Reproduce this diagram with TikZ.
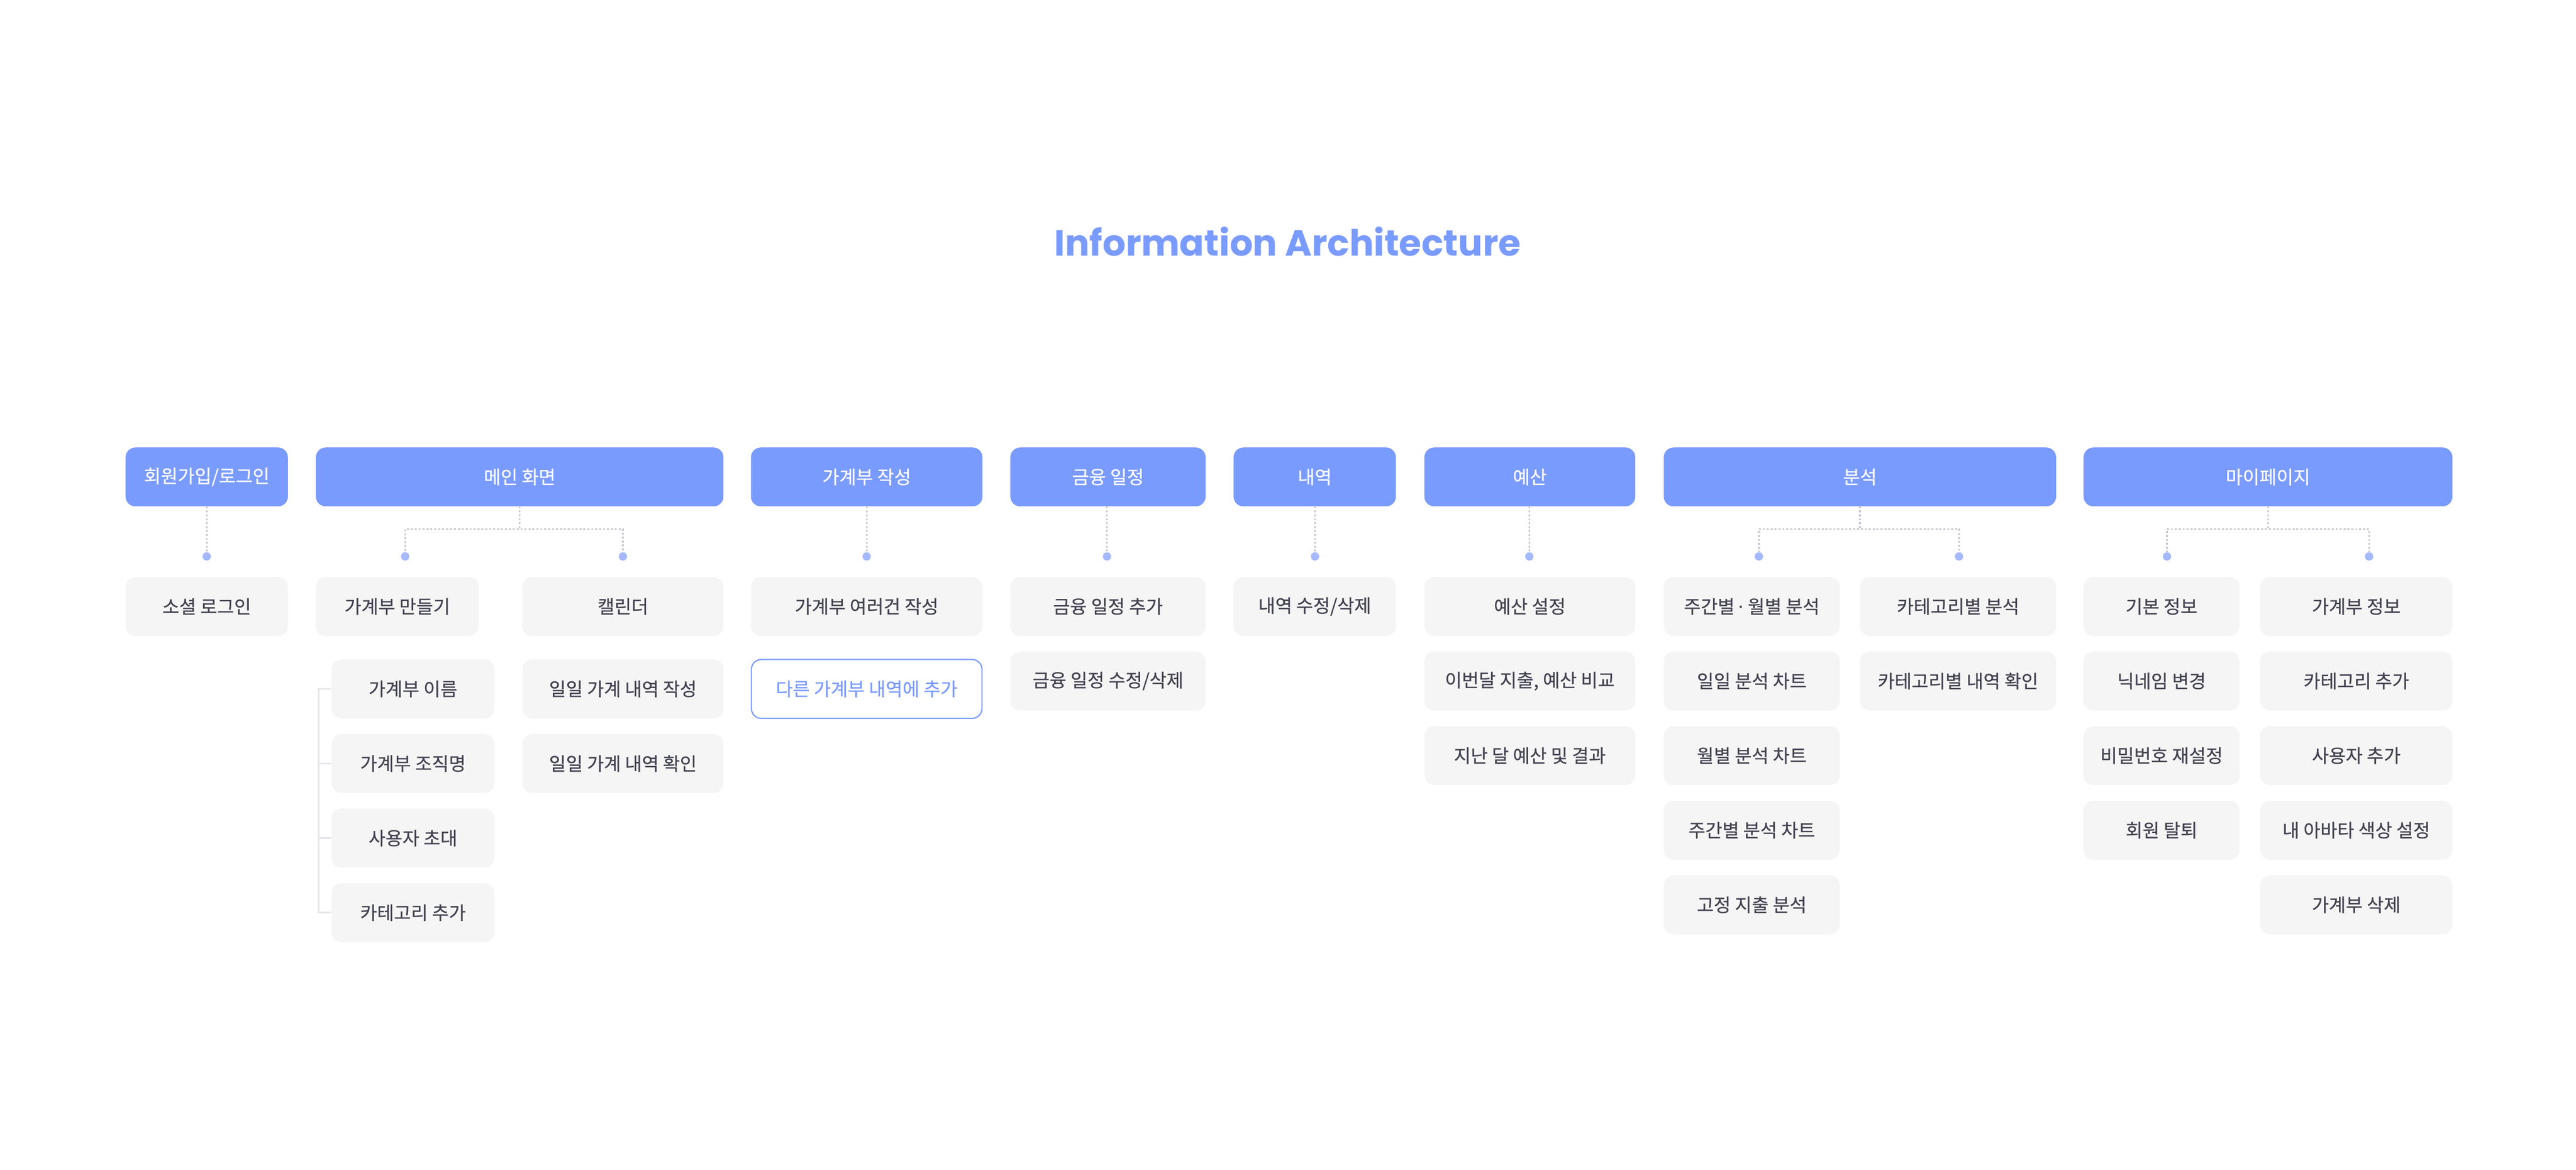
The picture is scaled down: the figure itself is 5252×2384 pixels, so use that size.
\documentclass[tikz,border=0pt]{standalone}
\usepackage{fontspec}
\newfontfamily\krfont{Noto Sans CJK KR}[FakeBold=0.5]
\newfontfamily\titlefont{Poppins}
\newfontfamily\dotfont{Noto Sans}
\usepackage{tikz}
\usetikzlibrary{backgrounds}
\definecolor{iablue}{HTML}{7A9BFE}
\definecolor{iagray}{HTML}{F5F5F6}
\definecolor{iatext}{HTML}{434352}
\definecolor{iadot}{HTML}{A5B9FF}
\definecolor{ialink}{HTML}{C8C8D2}
\definecolor{iabracket}{HTML}{E6E6EC}
\tikzset{
	topbox/.style={rectangle,rounded corners=20,fill=iablue,text=white,minimum height=120,inner sep=0pt,font=\krfont\fontsize{37.5}{44}\selectfont},
	subbox/.style={rectangle,rounded corners=20,fill=iagray,text=iatext,minimum height=120,inner sep=0pt,font=\krfont\fontsize{37.5}{44}\selectfont},
	addbox/.style={subbox,fill=white,draw=iablue,line width=2.5pt,text=iablue},
	hub/.style={circle,fill=iadot,minimum size=17,inner sep=0pt},
	link/.style={draw=ialink,line width=3.5pt,dash pattern=on 4pt off 4pt},
	bracket/.style={draw=iabracket,line width=3.5pt}
}
\begin{document}
\begin{tikzpicture}[x=1pt,y=-1pt]
	\fill[white] (0,0) rectangle (5252,2384);
	\useasboundingbox (0,0) rectangle (5252,2384);

	\node[font=\titlefont\bfseries\fontsize{74}{86}\selectfont,text=iablue,anchor=base] (title) at (2625,522) {Information Architecture};

	% top menu
	\node [topbox,minimum width=331] (signup) at (421.5,972) {회원가입/로그인};
	\node [topbox,minimum width=831] (main) at (1059.5,972) {메인 화면};
	\node [topbox,minimum width=472] (write) at (1767,972) {가계부 작성};
	\node [topbox,minimum width=398] (fin) at (2259,972) {금융 일정};
	\node [topbox,minimum width=331] (hist) at (2680.5,972) {내역};
	\node [topbox,minimum width=430] (budget) at (3119,972) {예산};
	\node [topbox,minimum width=800] (stat) at (3792,972) {분석};
	\node [topbox,minimum width=752] (mypage) at (4624,972) {마이페이지};

	% hubs
	\node [hub] (hubsignup) at (421.5,1134) {};
	\node [hub] (hubmake) at (826,1134) {};
	\node [hub] (hubcal) at (1270,1134) {};
	\node [hub] (hubwrite) at (1767,1134) {};
	\node [hub] (hubfin) at (2257,1134) {};
	\node [hub] (hubhist) at (2681,1134) {};
	\node [hub] (hubbudget) at (3118,1134) {};
	\node [hub] (hubperiod) at (3586,1134) {};
	\node [hub] (hubcat) at (3994,1134) {};
	\node [hub] (hubbasic) at (4418,1134) {};
	\node [hub] (hubbook) at (4830,1134) {};

	% second level
	\node [subbox,minimum width=331] (social) at (421.5,1236) {소셜 로그인};
	\node [subbox,minimum width=332] (make) at (810,1236) {가계부 만들기};
	\node [subbox,minimum width=410] (cal) at (1270,1236) {캘린더};
	\node [subbox,minimum width=472] (multi) at (1767,1236) {가계부 여러건 작성};
	\node [subbox,minimum width=398] (finadd) at (2259,1236) {금융 일정 추가};
	\node [subbox,minimum width=331] (histedit) at (2680.5,1236) {내역 수정/삭제};
	\node [subbox,minimum width=430] (budgetset) at (3119,1236) {예산 설정};
	\node [subbox,minimum width=359] (period) at (3571.5,1236) {주간별 {\dotfont\bfseries ·} 월별 분석};
	\node [subbox,minimum width=400] (catstat) at (3992,1236) {카테고리별 분석};
	\node [subbox,minimum width=318] (basic) at (4407,1236) {기본 정보};
	\node [subbox,minimum width=392] (bookinfo) at (4804,1236) {가계부 정보};

	% third level
	\node [subbox,minimum width=332] (bookname) at (842,1404) {가계부 이름};
	\node [subbox,minimum width=332] (bookorg) at (842,1556) {가계부 조직명};
	\node [subbox,minimum width=332] (invite) at (842,1708) {사용자 초대};
	\node [subbox,minimum width=332] (makecat) at (842,1860) {카테고리 추가};
	\node [subbox,minimum width=410] (daywrite) at (1270,1404) {일일 가계 내역 작성};
	\node [subbox,minimum width=410] (daycheck) at (1270,1556) {일일 가계 내역 확인};
	\node [addbox,minimum width=470] (otherbook) at (1767,1404) {다른 가계부 내역에 추가};
	\node [subbox,minimum width=398] (finedit) at (2259,1388) {금융 일정 수정/삭제};
	\node [subbox,minimum width=430] (compare) at (3119,1388) {이번달 지출, 예산 비교};
	\node [subbox,minimum width=430] (lastmonth) at (3119,1540) {지난 달 예산 및 결과};
	\node [subbox,minimum width=359] (daychart) at (3571.5,1388) {일일 분석 차트};
	\node [subbox,minimum width=359] (monthchart) at (3571.5,1540) {월별 분석 차트};
	\node [subbox,minimum width=359] (weekchart) at (3571.5,1692) {주간별 분석 차트};
	\node [subbox,minimum width=359] (fixed) at (3571.5,1844) {고정 지출 분석};
	\node [subbox,minimum width=400] (catlist) at (3992,1388) {카테고리별 내역 확인};
	\node [subbox,minimum width=318] (nick) at (4407,1388) {닉네임 변경};
	\node [subbox,minimum width=318] (password) at (4407,1540) {비밀번호 재설정};
	\node [subbox,minimum width=318] (leave) at (4407,1692) {회원 탈퇴};
	\node [subbox,minimum width=392] (addcat) at (4804,1388) {카테고리 추가};
	\node [subbox,minimum width=392] (adduser) at (4804,1540) {사용자 추가};
	\node [subbox,minimum width=392] (avatar) at (4804,1692) {내 아바타 색상 설정};
	\node [subbox,minimum width=392] (bookdel) at (4804,1844) {가계부 삭제};

	% dotted links
	\draw [link] (signup) -- (hubsignup);
	\draw [link] (main.south) -- ++(0,46) -| (hubmake);
	\draw [link] (main.south) -- ++(0,46) -| (hubcal);
	\draw [link] (write) -- (hubwrite);
	\draw [link] (fin.south -| hubfin) -- (hubfin);
	\draw [link] (hist.south -| hubhist) -- (hubhist);
	\draw [link] (budget.south -| hubbudget) -- (hubbudget);
	\draw [link] (stat.south) -- ++(0,46) -| (hubperiod);
	\draw [link] (stat.south) -- ++(0,46) -| (hubcat);
	\draw [link] (mypage.south) -- ++(0,46) -| (hubbasic);
	\draw [link] (mypage.south) -- ++(0,46) -| (hubbook);

	% bracket
	\draw [bracket] (bookname.west) -- ++(-26,0) |- (makecat.west);
	\draw [bracket] (bookorg.west) -- ++(-26,0);
	\draw [bracket] (invite.west) -- ++(-26,0);

	% glow
	\begin{scope}[on background layer]
		\foreach \h in {hubsignup,hubmake,hubcal,hubwrite,hubfin,hubhist,hubbudget,hubperiod,hubcat,hubbasic,hubbook}{
			\fill [iadot,opacity=0.10] ([yshift=-4pt]\h.center) circle (22);
			\fill [iadot,opacity=0.15] ([yshift=-2pt]\h.center) circle (14);
		}
	\end{scope}
\end{tikzpicture}
\end{document}
